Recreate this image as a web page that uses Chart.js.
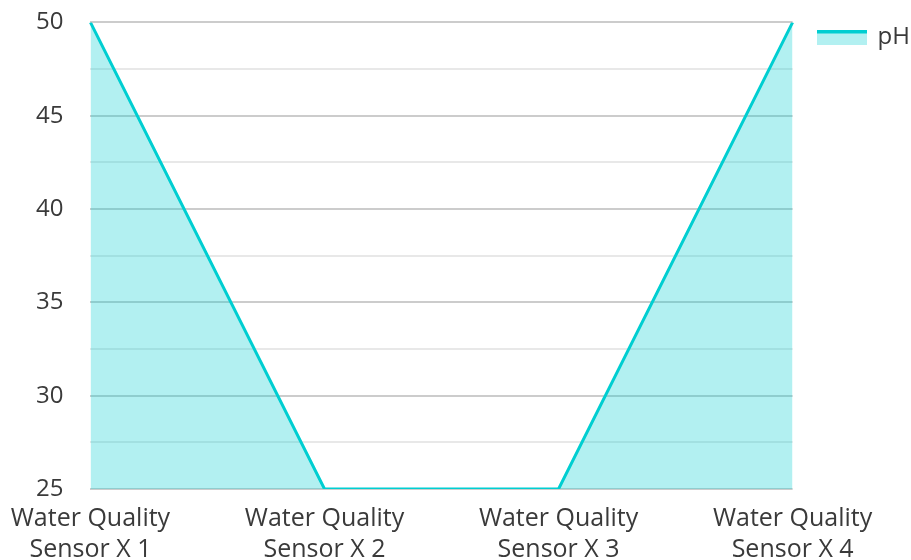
<!DOCTYPE html>
<html>
<head>
<meta charset="utf-8">
<script src="https://cdn.jsdelivr.net/npm/chart.js@4/dist/chart.umd.min.js"></script>
<style>
  html, body { margin: 0; padding: 0; background: #ffffff; }
  #wrap { width: 911px; height: 560px; }
</style>
</head>
<body>
<div id="wrap"><canvas id="chart"></canvas></div>
<script>
// Sensor readings
const categories = [
  ['Water Quality', 'Sensor X 1'],
  ['Water Quality', 'Sensor X 2'],
  ['Water Quality', 'Sensor X 3'],
  ['Water Quality', 'Sensor X 4']
];
const phValues = [50, 25, 25, 50];
const seriesName = 'pH';
const yMin = 25, yMax = 50, yStep = 2.5;

const lineColor = '#00ced1';
const fillColor = 'rgba(0, 206, 209, 0.3)';

// Legend swatch: filled box with a thick line along its top edge
const swatch = document.createElement('canvas');
swatch.width = 50; swatch.height = 15;
(function () {
  const c = swatch.getContext('2d');
  c.fillStyle = fillColor;
  c.fillRect(0, 0, 50, 15);
  c.fillStyle = lineColor;
  c.fillRect(0, 0, 50, 4);
})();

// Nudge the legend block away from the plot edge and down a little
const legendOffset = {
  id: 'legendOffset',
  afterLayout(chart) {
    const lg = chart.legend;
    if (!lg) return;
    lg.left += 15; lg.right += 15;
    lg.top += 11; lg.bottom += 11;
  }
};

Chart.defaults.font.family = '"Open Sans", sans-serif';
Chart.defaults.color = '#3a3a3a';

new Chart(document.getElementById('chart'), {
  type: 'line',
  data: {
    labels: categories,
    datasets: [{
      label: seriesName,
      data: phValues,
      borderColor: lineColor,
      backgroundColor: fillColor,
      borderWidth: 3,
      fill: 'start',
      tension: 0,
      pointRadius: 0,
      pointHoverRadius: 0,
      pointStyle: swatch
    }]
  },
  plugins: [legendOffset],
  options: {
    responsive: true,
    maintainAspectRatio: false,
    animation: false,
    layout: { padding: { top: 4, right: 6, left: 28, bottom: -11 } },
    plugins: {
      tooltip: { enabled: false },
      legend: {
        position: 'right',
        align: 'start',
        labels: {
          usePointStyle: true,
          pointStyleWidth: 48,
          font: { size: 24 },
          color: '#3a3a3a',
          padding: 10,
          boxWidth: 48
        }
      }
    },
    scales: {
      x: {
        offset: false,
        grid: { display: false },
        border: { display: false },
        ticks: {
          font: { size: 25, lineHeight: 1.24 },
          color: '#3a3a3a',
          maxRotation: 0,
          autoSkip: false,
          padding: 6
        }
      },
      y: {
        min: yMin,
        max: yMax,
        border: { display: false },
        grid: {
          drawTicks: true,
          tickLength: 19,
          tickColor: 'rgba(0,0,0,0)',
          lineWidth: 2,
          color: ctx => (ctx.tick && ctx.tick.value % 5 === 0) ? 'rgba(0,0,0,0.2)' : 'rgba(0,0,0,0.09)'
        },
        ticks: {
          stepSize: yStep,
          font: { size: 24 },
          color: '#3a3a3a',
          padding: 8,
          callback: v => (v % 5 === 0 ? String(v) : '')
        }
      }
    }
  }
});
</script>
</body>
</html>
